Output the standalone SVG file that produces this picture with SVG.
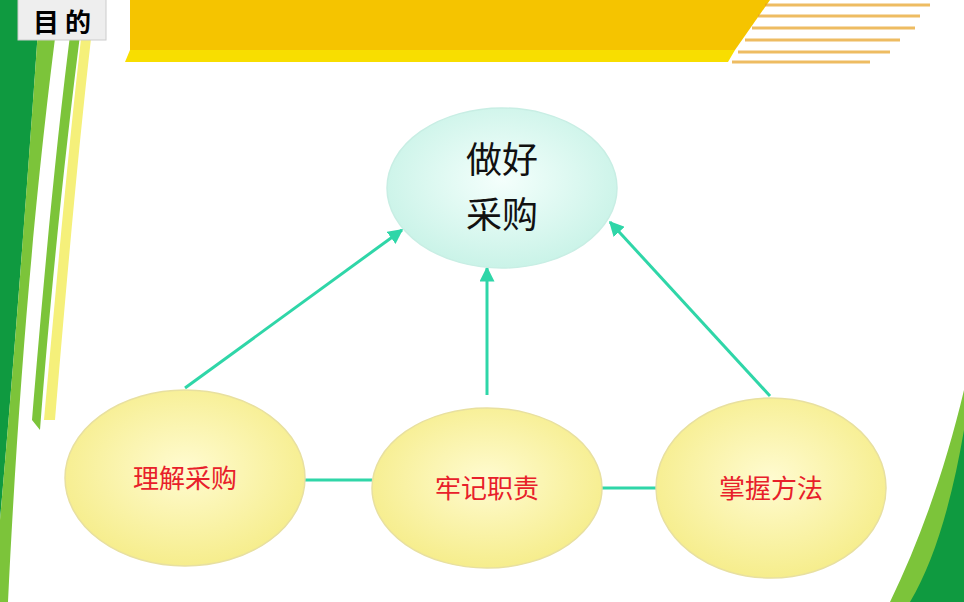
<svg xmlns="http://www.w3.org/2000/svg" width="964" height="602" viewBox="0 0 964 602">
<defs>
<style>
.n{stroke:#e8e0a0;stroke-width:1.5}
.yl{fill:url(#gy)}
.t{font-family:"Noto Sans CJK SC","Noto Sans",sans-serif;font-size:26px;text-anchor:middle;fill:#e8202a}
.c{stroke:#2fd6a8;stroke-width:3;fill:none}
</style>
<radialGradient id="gy" cx="50%" cy="45%" r="60%"><stop offset="0" stop-color="#fffbd0"/><stop offset="1" stop-color="#f5ec86"/></radialGradient>
<radialGradient id="gc" cx="50%" cy="45%" r="60%"><stop offset="0" stop-color="#f4fffc"/><stop offset="1" stop-color="#c6f2e6"/></radialGradient>
<marker id="ah" viewBox="0 0 10 10" refX="9" refY="5" markerWidth="5" markerHeight="5" orient="auto"><path d="M0,0L10,5L0,10z" fill="#2fd6a8"/></marker>
</defs>
<rect width="964" height="602" fill="#fff"/>
<g id="background">
<path d="M0,0H40C30,150 15,350 0,520Z" fill="#0f9a40"/>
<path d="M40,0H60C40,150 20,350 8,602H0V520C15,350 30,150 40,0Z" fill="#7cc43a"/>
<path d="M62,20L72,20C55,150 40,300 28,602H18C30,300 45,150 62,20Z" fill="#fff"/>
<path d="M72,20H82C65,150 50,300 40,430L32,420C42,300 55,150 72,20Z" fill="#7cc43a"/>
<path d="M82,30H92C78,150 65,300 55,420H44C55,300 68,150 82,30Z" fill="#f5f07a"/>
<polygon points="130,0 770,0 735,50 130,50" fill="#f5c400"/>
<polygon points="130,50 735,50 728,62 125,62" fill="#f8de00"/>
<g stroke="#e8a020" stroke-width="3" opacity="0.7">
<line x1="765" y1="5" x2="930" y2="5"/><line x1="758" y1="16" x2="920" y2="16"/><line x1="752" y1="28" x2="915" y2="28"/><line x1="745" y1="40" x2="900" y2="40"/><line x1="738" y1="52" x2="890" y2="52"/><line x1="732" y1="62" x2="870" y2="62"/>
</g>
<path d="M964,390V602H890C920,540 945,470 964,390Z" fill="#7cc43a"/>
<path d="M964,430V602H910C935,560 952,500 964,430Z" fill="#0f9a40"/>
<rect x="18" y="-5" width="88" height="45" fill="#eeeeee" stroke="#ccc"/>
<text x="62" y="32" font-family="Noto Sans CJK SC,sans-serif" font-weight="bold" font-size="26" text-anchor="middle" fill="#000">目 的</text>
</g>
<g id="connectors">
<line class="c" x1="185" y1="388" x2="402" y2="230" marker-end="url(#ah)"/>
<line class="c" x1="487" y1="395" x2="487" y2="268" marker-end="url(#ah)"/>
<line class="c" x1="770" y1="396" x2="610" y2="222" marker-end="url(#ah)"/>
<line class="c" x1="303" y1="480" x2="372" y2="480"/>
<line class="c" x1="601" y1="488" x2="656" y2="488"/>
</g>
<g id="top"><ellipse cx="502" cy="188" rx="115" ry="80" fill="url(#gc)" stroke="#c8eee4" stroke-width="1.5"/>
<text x="502" y="173" font-family="Noto Sans CJK SC,sans-serif" font-size="36" text-anchor="middle" fill="#111">做好</text>
<text x="502" y="228" font-family="Noto Sans CJK SC,sans-serif" font-size="36" text-anchor="middle" fill="#111">采购</text></g>
<g id="n1"><ellipse class="n yl" cx="185" cy="478" rx="120" ry="88"/><text class="t" x="185" y="488">理解采购</text></g>
<g id="n2"><ellipse class="n yl" cx="487" cy="488" rx="115" ry="80"/><text class="t" x="487" y="498">牢记职责</text></g>
<g id="n3"><ellipse class="n yl" cx="771" cy="488" rx="115" ry="90"/><text class="t" x="771" y="498">掌握方法</text></g>
</svg>
